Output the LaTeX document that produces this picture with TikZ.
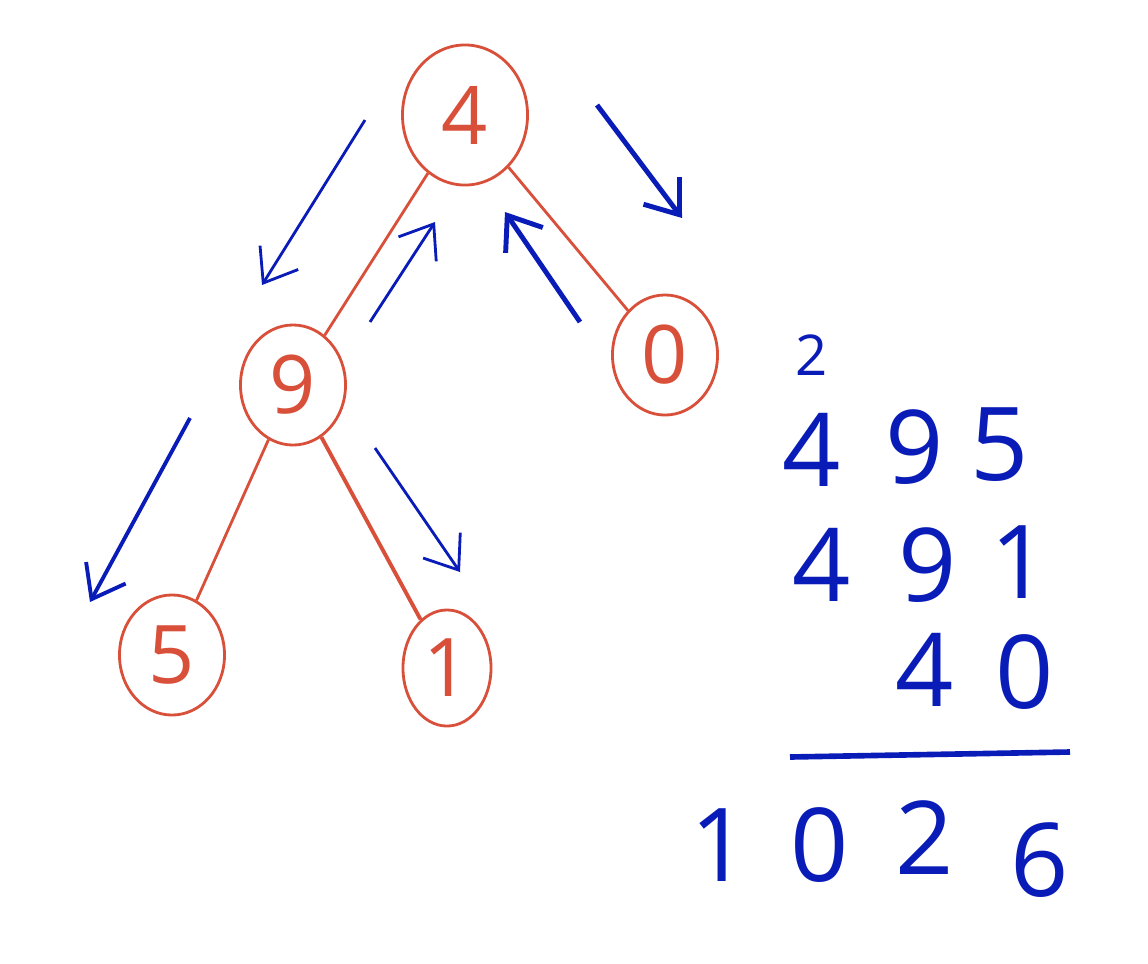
\documentclass[tikz,border=0pt]{standalone}
\usepackage{fontspec}
\setmainfont{Open Sans}
\usepackage{xcolor}
\usepackage{tikz}
\usetikzlibrary{shapes.geometric,arrows.meta}
\definecolor{rojo}{HTML}{D9503A}
\definecolor{azul}{HTML}{0A1CB8}

\begin{document}
\begin{tikzpicture}[x=0.01cm, y=-0.01cm,
    nodo/.style={draw, color=rojo, ellipse, thick, inner sep=0pt, minimum width=1.05cm, minimum height=1.2cm, font=\fontsize{23}{23}\selectfont},
    rama/.style={color=rojo, thick},
    flecha/.style={color=azul, thick, -{Straight Barb[length=3mm, width=4.5mm]}},
    cifra/.style={color=azul, inner sep=0pt, font=\fontsize{29}{29}\selectfont}]
        \useasboundingbox (0,0) rectangle (1148,963);
        % Nodos del árbol
        \node[nodo, minimum width=1.25cm, minimum height=1.4cm] (n4) at (465,115) {4};
        \node[nodo] (n9) at (293,385) {9};
        \node[nodo] (n0) at (665,355) {0};
        \node[nodo] (n5) at (172,655) {5};
        \node[nodo, minimum width=0.88cm, minimum height=1.16cm] (n1) at (447,668) {1};
        % Aristas
        \draw[rama] (n4) -- (n9);
        \draw[rama] (n4) -- (n0);
        \draw[rama] (n9) -- (n5);
        \draw[rama, line width=1.1pt] (n9) -- (n1);
        % Flechas del recorrido
        \coordinate (a1) at (365,120); \coordinate (b1) at (262,285);
        \coordinate (a2) at (370,322); \coordinate (b2) at (435,222);
        \coordinate (a3) at (580,322); \coordinate (b3) at (505,212);
        \coordinate (a4) at (597,105); \coordinate (b4) at (682,218);
        \coordinate (a5) at (190,418); \coordinate (b5) at (90,602);
        \coordinate (a6) at (375,448); \coordinate (b6) at (460,572);
        \draw[flecha] (a1) -- (b1);
        \draw[flecha] (a2) -- (b2);
        \draw[flecha, line width=1.4pt] (a3) -- (b3);
        \draw[flecha, line width=1.4pt] (a4) -- (b4);
        \draw[flecha, line width=1.1pt] (a5) -- (b5);
        \draw[flecha] (a6) -- (b6);
        % Suma
        \node[cifra, font=\fontsize{16}{16}\selectfont] (c0) at (812,355) {2};
        \node[cifra] (s11) at (812,450) {4};
        \node[cifra] (s12) at (915,447) {9};
        \node[cifra] (s13) at (1000,445) {5};
        \node[cifra] (s21) at (822,565) {4};
        \node[cifra] (s22) at (928,565) {9};
        \node[cifra] (s23) at (1020,562) {1};
        \node[cifra] (s32) at (925,670) {4};
        \node[cifra] (s33) at (1025,672) {0};
        \coordinate (l1) at (790,757); \coordinate (l2) at (1070,752);
        \draw[color=azul, line width=1.6pt] (l1) -- (l2);
        \node[cifra] (r1) at (720,845) {1};
        \node[cifra] (r2) at (820,845) {0};
        \node[cifra] (r3) at (925,838) {2};
        \node[cifra] (r4) at (1040,860) {6};
    \end{tikzpicture}
\end{document}
